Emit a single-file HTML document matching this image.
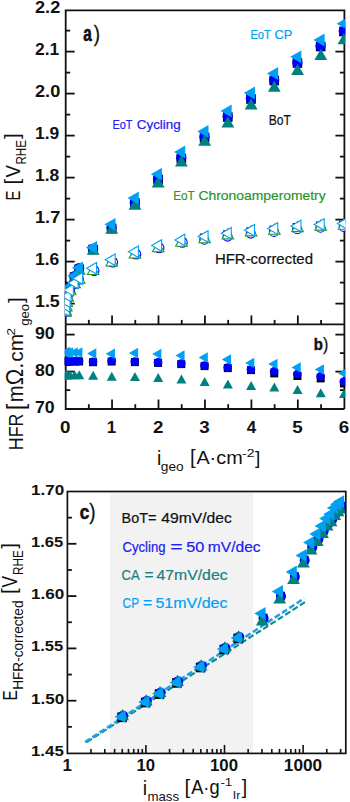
<!DOCTYPE html>
<html><head><meta charset="utf-8"><title>Figure</title>
<style>html,body{margin:0;padding:0;background:#fff;overflow:hidden}svg{display:block}text{font-family:"Liberation Sans",sans-serif}</style>
</head><body>
<svg width="350" height="802" viewBox="0 0 350 802">
<rect x="0" y="0" width="350" height="802" fill="#ffffff"/>
<defs><clipPath id="ca"><rect x="64.9" y="9.5" width="280.3" height="314.9"/></clipPath><clipPath id="cb"><rect x="64.9" y="325.3" width="280.3" height="84.5"/></clipPath><clipPath id="cc"><rect x="68.2" y="492.6" width="277" height="260"/></clipPath></defs>
<path d="M65.7,324.4 V10.4 H344.4 V409" fill="none" stroke="#111111" stroke-width="1.8"/>
<path d="M65.7,324.4 V409 H344.4" fill="none" stroke="#111111" stroke-width="1.8"/>
<line x1="65.7" y1="324.4" x2="344.4" y2="324.4" stroke="#111111" stroke-width="1.8"/>
<line x1="65.7" y1="30.6" x2="70.2" y2="30.6" stroke="#111111" stroke-width="1.8"/>
<line x1="344.4" y1="30.6" x2="339.9" y2="30.6" stroke="#111111" stroke-width="1.8"/>
<line x1="65.7" y1="51.6" x2="74.7" y2="51.6" stroke="#111111" stroke-width="1.8"/>
<line x1="344.4" y1="51.6" x2="335.4" y2="51.6" stroke="#111111" stroke-width="1.8"/>
<line x1="65.7" y1="72.6" x2="70.2" y2="72.6" stroke="#111111" stroke-width="1.8"/>
<line x1="344.4" y1="72.6" x2="339.9" y2="72.6" stroke="#111111" stroke-width="1.8"/>
<line x1="65.7" y1="93.6" x2="74.7" y2="93.6" stroke="#111111" stroke-width="1.8"/>
<line x1="344.4" y1="93.6" x2="335.4" y2="93.6" stroke="#111111" stroke-width="1.8"/>
<line x1="65.7" y1="114.6" x2="70.2" y2="114.6" stroke="#111111" stroke-width="1.8"/>
<line x1="344.4" y1="114.6" x2="339.9" y2="114.6" stroke="#111111" stroke-width="1.8"/>
<line x1="65.7" y1="135.6" x2="74.7" y2="135.6" stroke="#111111" stroke-width="1.8"/>
<line x1="344.4" y1="135.6" x2="335.4" y2="135.6" stroke="#111111" stroke-width="1.8"/>
<line x1="65.7" y1="156.6" x2="70.2" y2="156.6" stroke="#111111" stroke-width="1.8"/>
<line x1="344.4" y1="156.6" x2="339.9" y2="156.6" stroke="#111111" stroke-width="1.8"/>
<line x1="65.7" y1="177.6" x2="74.7" y2="177.6" stroke="#111111" stroke-width="1.8"/>
<line x1="344.4" y1="177.6" x2="335.4" y2="177.6" stroke="#111111" stroke-width="1.8"/>
<line x1="65.7" y1="198.6" x2="70.2" y2="198.6" stroke="#111111" stroke-width="1.8"/>
<line x1="344.4" y1="198.6" x2="339.9" y2="198.6" stroke="#111111" stroke-width="1.8"/>
<line x1="65.7" y1="219.6" x2="74.7" y2="219.6" stroke="#111111" stroke-width="1.8"/>
<line x1="344.4" y1="219.6" x2="335.4" y2="219.6" stroke="#111111" stroke-width="1.8"/>
<line x1="65.7" y1="240.6" x2="70.2" y2="240.6" stroke="#111111" stroke-width="1.8"/>
<line x1="344.4" y1="240.6" x2="339.9" y2="240.6" stroke="#111111" stroke-width="1.8"/>
<line x1="65.7" y1="261.6" x2="74.7" y2="261.6" stroke="#111111" stroke-width="1.8"/>
<line x1="344.4" y1="261.6" x2="335.4" y2="261.6" stroke="#111111" stroke-width="1.8"/>
<line x1="65.7" y1="282.6" x2="70.2" y2="282.6" stroke="#111111" stroke-width="1.8"/>
<line x1="344.4" y1="282.6" x2="339.9" y2="282.6" stroke="#111111" stroke-width="1.8"/>
<line x1="65.7" y1="303.6" x2="74.7" y2="303.6" stroke="#111111" stroke-width="1.8"/>
<line x1="344.4" y1="303.6" x2="335.4" y2="303.6" stroke="#111111" stroke-width="1.8"/>
<line x1="88.82" y1="324.4" x2="88.82" y2="319.9" stroke="#111111" stroke-width="1.8"/>
<line x1="112.05" y1="324.4" x2="112.05" y2="315.4" stroke="#111111" stroke-width="1.8"/>
<line x1="135.28" y1="324.4" x2="135.28" y2="319.9" stroke="#111111" stroke-width="1.8"/>
<line x1="158.5" y1="324.4" x2="158.5" y2="315.4" stroke="#111111" stroke-width="1.8"/>
<line x1="181.72" y1="324.4" x2="181.72" y2="319.9" stroke="#111111" stroke-width="1.8"/>
<line x1="204.95" y1="324.4" x2="204.95" y2="315.4" stroke="#111111" stroke-width="1.8"/>
<line x1="228.18" y1="324.4" x2="228.18" y2="319.9" stroke="#111111" stroke-width="1.8"/>
<line x1="251.4" y1="324.4" x2="251.4" y2="315.4" stroke="#111111" stroke-width="1.8"/>
<line x1="274.62" y1="324.4" x2="274.62" y2="319.9" stroke="#111111" stroke-width="1.8"/>
<line x1="297.85" y1="324.4" x2="297.85" y2="315.4" stroke="#111111" stroke-width="1.8"/>
<line x1="321.08" y1="324.4" x2="321.08" y2="319.9" stroke="#111111" stroke-width="1.8"/>
<line x1="65.7" y1="334.6" x2="74.7" y2="334.6" stroke="#111111" stroke-width="1.8"/>
<line x1="344.4" y1="334.6" x2="335.4" y2="334.6" stroke="#111111" stroke-width="1.8"/>
<line x1="65.7" y1="353.1" x2="70.2" y2="353.1" stroke="#111111" stroke-width="1.8"/>
<line x1="344.4" y1="353.1" x2="339.9" y2="353.1" stroke="#111111" stroke-width="1.8"/>
<line x1="65.7" y1="371.6" x2="74.7" y2="371.6" stroke="#111111" stroke-width="1.8"/>
<line x1="344.4" y1="371.6" x2="335.4" y2="371.6" stroke="#111111" stroke-width="1.8"/>
<line x1="65.7" y1="390.1" x2="70.2" y2="390.1" stroke="#111111" stroke-width="1.8"/>
<line x1="344.4" y1="390.1" x2="339.9" y2="390.1" stroke="#111111" stroke-width="1.8"/>
<line x1="88.82" y1="409" x2="88.82" y2="404.2" stroke="#111111" stroke-width="1.8"/>
<line x1="112.05" y1="409" x2="112.05" y2="399.5" stroke="#111111" stroke-width="1.8"/>
<line x1="135.28" y1="409" x2="135.28" y2="404.2" stroke="#111111" stroke-width="1.8"/>
<line x1="158.5" y1="409" x2="158.5" y2="399.5" stroke="#111111" stroke-width="1.8"/>
<line x1="181.72" y1="409" x2="181.72" y2="404.2" stroke="#111111" stroke-width="1.8"/>
<line x1="204.95" y1="409" x2="204.95" y2="399.5" stroke="#111111" stroke-width="1.8"/>
<line x1="228.18" y1="409" x2="228.18" y2="404.2" stroke="#111111" stroke-width="1.8"/>
<line x1="251.4" y1="409" x2="251.4" y2="399.5" stroke="#111111" stroke-width="1.8"/>
<line x1="274.62" y1="409" x2="274.62" y2="404.2" stroke="#111111" stroke-width="1.8"/>
<line x1="297.85" y1="409" x2="297.85" y2="399.5" stroke="#111111" stroke-width="1.8"/>
<line x1="321.08" y1="409" x2="321.08" y2="404.2" stroke="#111111" stroke-width="1.8"/>
<g clip-path="url(#ca)">
<rect x="60.86" y="306.4" width="9.6" height="9.6" fill="#000000"/>
<rect x="61.33" y="300.1" width="9.6" height="9.6" fill="#000000"/>
<rect x="61.79" y="296.4" width="9.6" height="9.6" fill="#000000"/>
<rect x="62.72" y="291.2" width="9.6" height="9.6" fill="#000000"/>
<rect x="65.04" y="283.2" width="9.6" height="9.6" fill="#000000"/>
<rect x="69.69" y="272.4" width="9.6" height="9.6" fill="#000000"/>
<rect x="74.33" y="264.5" width="9.6" height="9.6" fill="#000000"/>
<rect x="88.27" y="244.7" width="9.6" height="9.6" fill="#000000"/>
<rect x="106.85" y="223.7" width="9.6" height="9.6" fill="#000000"/>
<rect x="130.07" y="198.2" width="9.6" height="9.6" fill="#000000"/>
<rect x="153.3" y="174.7" width="9.6" height="9.6" fill="#000000"/>
<rect x="176.52" y="153.7" width="9.6" height="9.6" fill="#000000"/>
<rect x="199.75" y="132.7" width="9.6" height="9.6" fill="#000000"/>
<rect x="222.97" y="112.2" width="9.6" height="9.6" fill="#000000"/>
<rect x="246.2" y="94.2" width="9.6" height="9.6" fill="#000000"/>
<rect x="269.43" y="75.7" width="9.6" height="9.6" fill="#000000"/>
<rect x="292.65" y="58.2" width="9.6" height="9.6" fill="#000000"/>
<rect x="315.88" y="41.7" width="9.6" height="9.6" fill="#000000"/>
<rect x="339.1" y="26.7" width="9.6" height="9.6" fill="#000000"/>
<circle cx="65.56" cy="310.2" r="5.2" fill="#0000ff"/>
<circle cx="66.03" cy="303.9" r="5.2" fill="#0000ff"/>
<circle cx="66.49" cy="300.2" r="5.2" fill="#0000ff"/>
<circle cx="67.42" cy="295" r="5.2" fill="#0000ff"/>
<circle cx="69.74" cy="287" r="5.2" fill="#0000ff"/>
<circle cx="74.39" cy="276.2" r="5.2" fill="#0000ff"/>
<circle cx="79.03" cy="268.3" r="5.2" fill="#0000ff"/>
<circle cx="92.97" cy="249" r="5.2" fill="#0000ff"/>
<circle cx="111.55" cy="228" r="5.2" fill="#0000ff"/>
<circle cx="134.78" cy="202.5" r="5.2" fill="#0000ff"/>
<circle cx="158" cy="179" r="5.2" fill="#0000ff"/>
<circle cx="181.22" cy="158" r="5.2" fill="#0000ff"/>
<circle cx="204.45" cy="137" r="5.2" fill="#0000ff"/>
<circle cx="227.68" cy="116.5" r="5.2" fill="#0000ff"/>
<circle cx="250.9" cy="98.5" r="5.2" fill="#0000ff"/>
<circle cx="274.12" cy="80" r="5.2" fill="#0000ff"/>
<circle cx="297.35" cy="62.5" r="5.2" fill="#0000ff"/>
<circle cx="320.58" cy="46" r="5.2" fill="#0000ff"/>
<circle cx="343.8" cy="31" r="5.2" fill="#0000ff"/>
<polygon points="65.76,305.5 59.36,316.7 72.16,316.7" fill="#008080"/>
<polygon points="66.23,299.2 59.83,310.4 72.63,310.4" fill="#008080"/>
<polygon points="66.69,295.5 60.29,306.7 73.09,306.7" fill="#008080"/>
<polygon points="67.62,290.3 61.22,301.5 74.02,301.5" fill="#008080"/>
<polygon points="69.94,282.3 63.54,293.5 76.34,293.5" fill="#008080"/>
<polygon points="74.59,271.5 68.19,282.7 80.99,282.7" fill="#008080"/>
<polygon points="79.23,263.6 72.83,274.8 85.64,274.8" fill="#008080"/>
<polygon points="93.17,243.6 86.77,254.8 99.57,254.8" fill="#008080"/>
<polygon points="111.75,222.6 105.35,233.8 118.15,233.8" fill="#008080"/>
<polygon points="134.97,198.6 128.57,209.8 141.38,209.8" fill="#008080"/>
<polygon points="158.2,176.3 151.8,187.5 164.6,187.5" fill="#008080"/>
<polygon points="181.42,155.3 175.02,166.5 187.82,166.5" fill="#008080"/>
<polygon points="204.65,134.5 198.25,145.7 211.05,145.7" fill="#008080"/>
<polygon points="227.88,116.3 221.47,127.5 234.28,127.5" fill="#008080"/>
<polygon points="251.1,98.3 244.7,109.5 257.5,109.5" fill="#008080"/>
<polygon points="274.32,80.6 267.93,91.8 280.72,91.8" fill="#008080"/>
<polygon points="297.55,63.8 291.15,75 303.95,75" fill="#008080"/>
<polygon points="320.78,48.8 314.38,60 327.18,60" fill="#008080"/>
<polygon points="344,33.1 337.6,44.3 350.4,44.3" fill="#008080"/>
<polygon points="58.4,309.7 69.6,303.3 69.6,316.1" fill="#00a0f5"/>
<polygon points="58.86,303.4 70.06,297 70.06,309.8" fill="#00a0f5"/>
<polygon points="59.33,299.7 70.53,293.3 70.53,306.1" fill="#00a0f5"/>
<polygon points="60.26,294.5 71.46,288.1 71.46,300.9" fill="#00a0f5"/>
<polygon points="62.58,286.5 73.78,280.1 73.78,292.9" fill="#00a0f5"/>
<polygon points="67.22,275.7 78.42,269.3 78.42,282.1" fill="#00a0f5"/>
<polygon points="71.87,267.8 83.07,261.4 83.07,274.2" fill="#00a0f5"/>
<polygon points="85.8,247.5 97,241.1 97,253.9" fill="#00a0f5"/>
<polygon points="104.38,224.3 115.58,217.9 115.58,230.7" fill="#00a0f5"/>
<polygon points="127.61,198 138.81,191.6 138.81,204.4" fill="#00a0f5"/>
<polygon points="150.83,174.2 162.03,167.8 162.03,180.6" fill="#00a0f5"/>
<polygon points="174.06,152 185.26,145.6 185.26,158.4" fill="#00a0f5"/>
<polygon points="197.28,131.5 208.48,125.1 208.48,137.9" fill="#00a0f5"/>
<polygon points="220.51,111 231.71,104.6 231.71,117.4" fill="#00a0f5"/>
<polygon points="243.73,93 254.93,86.6 254.93,99.4" fill="#00a0f5"/>
<polygon points="266.96,73.5 278.16,67.1 278.16,79.9" fill="#00a0f5"/>
<polygon points="290.18,56.8 301.38,50.4 301.38,63.2" fill="#00a0f5"/>
<polygon points="313.41,40 324.61,33.6 324.61,46.4" fill="#00a0f5"/>
<polygon points="336.63,23.7 347.83,17.3 347.83,30.1" fill="#00a0f5"/>
<rect x="62.26" y="308.3" width="7" height="7" fill="#fff" stroke="#000000" stroke-width="1.1"/>
<rect x="62.73" y="304.2" width="7" height="7" fill="#fff" stroke="#000000" stroke-width="1.1"/>
<rect x="63.19" y="299.8" width="7" height="7" fill="#fff" stroke="#000000" stroke-width="1.1"/>
<rect x="64.12" y="294" width="7" height="7" fill="#fff" stroke="#000000" stroke-width="1.1"/>
<rect x="66.44" y="288.1" width="7" height="7" fill="#fff" stroke="#000000" stroke-width="1.1"/>
<rect x="71.09" y="280.9" width="7" height="7" fill="#fff" stroke="#000000" stroke-width="1.1"/>
<rect x="75.73" y="276.4" width="7" height="7" fill="#fff" stroke="#000000" stroke-width="1.1"/>
<rect x="90.07" y="267.1" width="7.4" height="7.4" fill="#fff" stroke="#000000" stroke-width="1.1"/>
<rect x="108.65" y="258.6" width="7.4" height="7.4" fill="#fff" stroke="#000000" stroke-width="1.1"/>
<rect x="131.88" y="250.6" width="7.4" height="7.4" fill="#fff" stroke="#000000" stroke-width="1.1"/>
<rect x="155.1" y="244.3" width="7.4" height="7.4" fill="#fff" stroke="#000000" stroke-width="1.1"/>
<rect x="178.33" y="238.8" width="7.4" height="7.4" fill="#fff" stroke="#000000" stroke-width="1.1"/>
<rect x="200.35" y="234.1" width="6.6" height="6.6" fill="#fff" stroke="#000000" stroke-width="1.1"/>
<rect x="223.57" y="230.9" width="6.6" height="6.6" fill="#fff" stroke="#000000" stroke-width="1.1"/>
<rect x="246.8" y="227.9" width="6.6" height="6.6" fill="#fff" stroke="#000000" stroke-width="1.1"/>
<rect x="270.02" y="226.2" width="6.6" height="6.6" fill="#fff" stroke="#000000" stroke-width="1.1"/>
<rect x="293.25" y="223.6" width="6.6" height="6.6" fill="#fff" stroke="#000000" stroke-width="1.1"/>
<rect x="316.48" y="222.1" width="6.6" height="6.6" fill="#fff" stroke="#000000" stroke-width="1.1"/>
<rect x="339.7" y="221.2" width="6.6" height="6.6" fill="#fff" stroke="#000000" stroke-width="1.1"/>
<circle cx="65.56" cy="311.8" r="4.4" fill="#fff" stroke="#0000ff" stroke-width="1.1"/>
<circle cx="66.03" cy="307.7" r="4.4" fill="#fff" stroke="#0000ff" stroke-width="1.1"/>
<circle cx="66.49" cy="303.3" r="4.4" fill="#fff" stroke="#0000ff" stroke-width="1.1"/>
<circle cx="67.42" cy="297.5" r="4.4" fill="#fff" stroke="#0000ff" stroke-width="1.1"/>
<circle cx="69.74" cy="291.6" r="4.4" fill="#fff" stroke="#0000ff" stroke-width="1.1"/>
<circle cx="74.39" cy="284.4" r="4.4" fill="#fff" stroke="#0000ff" stroke-width="1.1"/>
<circle cx="79.03" cy="279.9" r="4.4" fill="#fff" stroke="#0000ff" stroke-width="1.1"/>
<circle cx="94.27" cy="270.8" r="4.7" fill="#fff" stroke="#0000ff" stroke-width="1.1"/>
<circle cx="112.85" cy="262.3" r="4.7" fill="#fff" stroke="#0000ff" stroke-width="1.1"/>
<circle cx="136.08" cy="254.3" r="4.7" fill="#fff" stroke="#0000ff" stroke-width="1.1"/>
<circle cx="159.3" cy="248" r="4.7" fill="#fff" stroke="#0000ff" stroke-width="1.1"/>
<circle cx="182.53" cy="242.5" r="4.7" fill="#fff" stroke="#0000ff" stroke-width="1.1"/>
<circle cx="204.35" cy="239.8" r="4.5" fill="#fff" stroke="#0000ff" stroke-width="1.1"/>
<circle cx="227.58" cy="236.6" r="4.5" fill="#fff" stroke="#0000ff" stroke-width="1.1"/>
<circle cx="250.8" cy="233.6" r="4.5" fill="#fff" stroke="#0000ff" stroke-width="1.1"/>
<circle cx="274.02" cy="231.9" r="4.5" fill="#fff" stroke="#0000ff" stroke-width="1.1"/>
<circle cx="297.25" cy="229.3" r="4.5" fill="#fff" stroke="#0000ff" stroke-width="1.1"/>
<circle cx="320.48" cy="227.8" r="4.5" fill="#fff" stroke="#0000ff" stroke-width="1.1"/>
<circle cx="343.7" cy="226.9" r="4.5" fill="#fff" stroke="#0000ff" stroke-width="1.1"/>
<polygon points="65.76,305 59.96,315 71.56,315" fill="#fff" stroke="#2a962a" stroke-width="1.1"/>
<polygon points="66.23,300.9 60.43,310.9 72.03,310.9" fill="#fff" stroke="#2a962a" stroke-width="1.1"/>
<polygon points="66.69,296.5 60.89,306.5 72.49,306.5" fill="#fff" stroke="#2a962a" stroke-width="1.1"/>
<polygon points="67.62,290.7 61.82,300.7 73.42,300.7" fill="#fff" stroke="#2a962a" stroke-width="1.1"/>
<polygon points="69.94,284.8 64.14,294.8 75.74,294.8" fill="#fff" stroke="#2a962a" stroke-width="1.1"/>
<polygon points="74.59,277.6 68.79,287.6 80.39,287.6" fill="#fff" stroke="#2a962a" stroke-width="1.1"/>
<polygon points="79.23,273.1 73.44,283.1 85.03,283.1" fill="#fff" stroke="#2a962a" stroke-width="1.1"/>
<polygon points="93.17,264.5 87.37,274.5 98.97,274.5" fill="#fff" stroke="#2a962a" stroke-width="1.1"/>
<polygon points="111.75,256 105.95,266 117.55,266" fill="#fff" stroke="#2a962a" stroke-width="1.1"/>
<polygon points="134.97,248 129.17,258 140.78,258" fill="#fff" stroke="#2a962a" stroke-width="1.1"/>
<polygon points="158.2,241.7 152.4,251.7 164,251.7" fill="#fff" stroke="#2a962a" stroke-width="1.1"/>
<polygon points="181.42,236.2 175.62,246.2 187.22,246.2" fill="#fff" stroke="#2a962a" stroke-width="1.1"/>
<polygon points="204.65,232.7 198.85,242.7 210.45,242.7" fill="#fff" stroke="#2a962a" stroke-width="1.1"/>
<polygon points="227.88,228.9 222.07,238.9 233.68,238.9" fill="#fff" stroke="#2a962a" stroke-width="1.1"/>
<polygon points="251.1,225.9 245.3,235.9 256.9,235.9" fill="#fff" stroke="#2a962a" stroke-width="1.1"/>
<polygon points="274.32,224.2 268.52,234.2 280.12,234.2" fill="#fff" stroke="#2a962a" stroke-width="1.1"/>
<polygon points="297.55,221.6 291.75,231.6 303.35,231.6" fill="#fff" stroke="#2a962a" stroke-width="1.1"/>
<polygon points="320.78,220.1 314.98,230.1 326.58,230.1" fill="#fff" stroke="#2a962a" stroke-width="1.1"/>
<polygon points="344,219.2 338.2,229.2 349.8,229.2" fill="#fff" stroke="#2a962a" stroke-width="1.1"/>
<polygon points="59.2,310.3 69.2,304.5 69.2,316.1" fill="#fff" stroke="#00a0f5" stroke-width="1.1" stroke-linejoin="miter"/>
<polygon points="59.66,306.2 69.66,300.4 69.66,312" fill="#fff" stroke="#00a0f5" stroke-width="1.1" stroke-linejoin="miter"/>
<polygon points="60.13,301.8 70.13,296 70.13,307.6" fill="#fff" stroke="#00a0f5" stroke-width="1.1" stroke-linejoin="miter"/>
<polygon points="61.06,296 71.06,290.2 71.06,301.8" fill="#fff" stroke="#00a0f5" stroke-width="1.1" stroke-linejoin="miter"/>
<polygon points="63.38,290.1 73.38,284.3 73.38,295.9" fill="#fff" stroke="#00a0f5" stroke-width="1.1" stroke-linejoin="miter"/>
<polygon points="68.02,282.9 78.02,277.1 78.02,288.7" fill="#fff" stroke="#00a0f5" stroke-width="1.1" stroke-linejoin="miter"/>
<polygon points="72.67,278.4 82.67,272.6 82.67,284.2" fill="#fff" stroke="#00a0f5" stroke-width="1.1" stroke-linejoin="miter"/>
<polygon points="86.6,268.3 96.6,262.5 96.6,274.1" fill="#fff" stroke="#00a0f5" stroke-width="1.1" stroke-linejoin="miter"/>
<polygon points="105.18,259.8 115.18,254 115.18,265.6" fill="#fff" stroke="#00a0f5" stroke-width="1.1" stroke-linejoin="miter"/>
<polygon points="128.41,251.8 138.41,246 138.41,257.6" fill="#fff" stroke="#00a0f5" stroke-width="1.1" stroke-linejoin="miter"/>
<polygon points="151.63,245.5 161.63,239.7 161.63,251.3" fill="#fff" stroke="#00a0f5" stroke-width="1.1" stroke-linejoin="miter"/>
<polygon points="174.86,240 184.86,234.2 184.86,245.8" fill="#fff" stroke="#00a0f5" stroke-width="1.1" stroke-linejoin="miter"/>
<polygon points="198.08,236.5 208.08,230.7 208.08,242.3" fill="#fff" stroke="#00a0f5" stroke-width="1.1" stroke-linejoin="miter"/>
<polygon points="221.31,233.3 231.31,227.5 231.31,239.1" fill="#fff" stroke="#00a0f5" stroke-width="1.1" stroke-linejoin="miter"/>
<polygon points="244.53,230.3 254.53,224.5 254.53,236.1" fill="#fff" stroke="#00a0f5" stroke-width="1.1" stroke-linejoin="miter"/>
<polygon points="267.76,228.6 277.76,222.8 277.76,234.4" fill="#fff" stroke="#00a0f5" stroke-width="1.1" stroke-linejoin="miter"/>
<polygon points="290.98,226 300.98,220.2 300.98,231.8" fill="#fff" stroke="#00a0f5" stroke-width="1.1" stroke-linejoin="miter"/>
<polygon points="314.21,224.5 324.21,218.7 324.21,230.3" fill="#fff" stroke="#00a0f5" stroke-width="1.1" stroke-linejoin="miter"/>
<polygon points="337.43,223.6 347.43,217.8 347.43,229.4" fill="#fff" stroke="#00a0f5" stroke-width="1.1" stroke-linejoin="miter"/>
</g>
<g clip-path="url(#cb)">
<rect x="61.66" y="357.5" width="8" height="8" fill="#000000"/>
<rect x="62.13" y="357.5" width="8" height="8" fill="#000000"/>
<rect x="62.59" y="357.5" width="8" height="8" fill="#000000"/>
<rect x="63.52" y="357.5" width="8" height="8" fill="#000000"/>
<rect x="65.84" y="357.5" width="8" height="8" fill="#000000"/>
<rect x="70.49" y="357.5" width="8" height="8" fill="#000000"/>
<rect x="75.13" y="357.5" width="8" height="8" fill="#000000"/>
<rect x="89.07" y="358.2" width="8" height="8" fill="#000000"/>
<rect x="107.65" y="357.5" width="8" height="8" fill="#000000"/>
<rect x="130.88" y="358.1" width="8" height="8" fill="#000000"/>
<rect x="154.1" y="358.9" width="8" height="8" fill="#000000"/>
<rect x="177.32" y="360.1" width="8" height="8" fill="#000000"/>
<rect x="200.55" y="362.1" width="8" height="8" fill="#000000"/>
<rect x="223.78" y="364.1" width="8" height="8" fill="#000000"/>
<rect x="247" y="366.1" width="8" height="8" fill="#000000"/>
<rect x="270.23" y="369.4" width="8" height="8" fill="#000000"/>
<rect x="293.45" y="372" width="8" height="8" fill="#000000"/>
<rect x="316.68" y="374.4" width="8" height="8" fill="#000000"/>
<rect x="339.9" y="379.5" width="8" height="8" fill="#000000"/>
<circle cx="65.56" cy="361" r="4.3" fill="#0000ff"/>
<circle cx="66.03" cy="361" r="4.3" fill="#0000ff"/>
<circle cx="66.49" cy="361" r="4.3" fill="#0000ff"/>
<circle cx="67.42" cy="361" r="4.3" fill="#0000ff"/>
<circle cx="69.74" cy="361" r="4.3" fill="#0000ff"/>
<circle cx="74.39" cy="361" r="4.3" fill="#0000ff"/>
<circle cx="79.03" cy="361" r="4.3" fill="#0000ff"/>
<circle cx="92.97" cy="361.7" r="4.3" fill="#0000ff"/>
<circle cx="111.55" cy="361" r="4.3" fill="#0000ff"/>
<circle cx="134.78" cy="361.6" r="4.3" fill="#0000ff"/>
<circle cx="158" cy="362.4" r="4.3" fill="#0000ff"/>
<circle cx="181.22" cy="363.6" r="4.3" fill="#0000ff"/>
<circle cx="204.45" cy="365.6" r="4.3" fill="#0000ff"/>
<circle cx="227.68" cy="367.6" r="4.3" fill="#0000ff"/>
<circle cx="250.9" cy="369.6" r="4.3" fill="#0000ff"/>
<circle cx="274.12" cy="371.4" r="4.3" fill="#0000ff"/>
<circle cx="297.35" cy="374" r="4.3" fill="#0000ff"/>
<circle cx="320.58" cy="376.4" r="4.3" fill="#0000ff"/>
<circle cx="343.8" cy="381.5" r="4.3" fill="#0000ff"/>
<polygon points="65.76,370.2 60.76,379.2 70.76,379.2" fill="#008080"/>
<polygon points="66.23,370.2 61.23,379.2 71.23,379.2" fill="#008080"/>
<polygon points="66.69,370.2 61.69,379.2 71.69,379.2" fill="#008080"/>
<polygon points="67.62,370.2 62.62,379.2 72.62,379.2" fill="#008080"/>
<polygon points="69.94,370.2 64.94,379.2 74.94,379.2" fill="#008080"/>
<polygon points="74.59,370.2 69.59,379.2 79.59,379.2" fill="#008080"/>
<polygon points="79.23,370.2 74.23,379.2 84.23,379.2" fill="#008080"/>
<polygon points="93.17,370.8 88.17,379.8 98.17,379.8" fill="#008080"/>
<polygon points="111.75,371.8 106.75,380.8 116.75,380.8" fill="#008080"/>
<polygon points="134.97,372 129.97,381 139.97,381" fill="#008080"/>
<polygon points="158.2,373 153.2,382 163.2,382" fill="#008080"/>
<polygon points="181.42,374.6 176.42,383.6 186.42,383.6" fill="#008080"/>
<polygon points="204.65,377 199.65,386 209.65,386" fill="#008080"/>
<polygon points="227.88,379.4 222.88,388.4 232.88,388.4" fill="#008080"/>
<polygon points="251.1,381 246.1,390 256.1,390" fill="#008080"/>
<polygon points="274.32,382.5 269.32,391.5 279.32,391.5" fill="#008080"/>
<polygon points="297.55,385 292.55,394 302.55,394" fill="#008080"/>
<polygon points="320.78,388.3 315.78,397.3 325.78,397.3" fill="#008080"/>
<polygon points="344,389 339,398 349,398" fill="#008080"/>
<polygon points="59.73,352.5 68.93,347.25 68.93,357.75" fill="#00a0f5"/>
<polygon points="60.2,352.5 69.4,347.25 69.4,357.75" fill="#00a0f5"/>
<polygon points="60.66,352.5 69.86,347.25 69.86,357.75" fill="#00a0f5"/>
<polygon points="61.59,352.5 70.79,347.25 70.79,357.75" fill="#00a0f5"/>
<polygon points="63.91,352.5 73.11,347.25 73.11,357.75" fill="#00a0f5"/>
<polygon points="68.56,352.5 77.76,347.25 77.76,357.75" fill="#00a0f5"/>
<polygon points="73.2,352.5 82.4,347.25 82.4,357.75" fill="#00a0f5"/>
<polygon points="87.14,353.5 96.34,348.25 96.34,358.75" fill="#00a0f5"/>
<polygon points="105.72,353.7 114.92,348.45 114.92,358.95" fill="#00a0f5"/>
<polygon points="128.94,353 138.14,347.75 138.14,358.25" fill="#00a0f5"/>
<polygon points="152.17,354 161.37,348.75 161.37,359.25" fill="#00a0f5"/>
<polygon points="175.39,355.6 184.59,350.35 184.59,360.85" fill="#00a0f5"/>
<polygon points="198.62,357.6 207.82,352.35 207.82,362.85" fill="#00a0f5"/>
<polygon points="221.84,359.6 231.04,354.35 231.04,364.85" fill="#00a0f5"/>
<polygon points="245.07,363 254.27,357.75 254.27,368.25" fill="#00a0f5"/>
<polygon points="268.29,363.9 277.49,358.65 277.49,369.15" fill="#00a0f5"/>
<polygon points="291.52,367.6 300.72,362.35 300.72,372.85" fill="#00a0f5"/>
<polygon points="314.74,369.6 323.94,364.35 323.94,374.85" fill="#00a0f5"/>
<polygon points="337.97,373.2 347.17,367.95 347.17,378.45" fill="#00a0f5"/>
</g>
<rect x="109.8" y="493" width="143.2" height="259.5" fill="#f2f2f2"/>
<line x1="85.5" y1="742.9" x2="306.4" y2="601.3" stroke="#0f8a86" stroke-width="2.1" stroke-dasharray="6 2.73" stroke-dashoffset="-1.5"/>
<line x1="85" y1="742.2" x2="304.2" y2="598.3" stroke="#1aa2f0" stroke-width="2.6" stroke-dasharray="6 2.73"/>
<g clip-path="url(#cc)">
<rect x="117.24" y="712.5" width="9.6" height="9.6" fill="#000000"/>
<rect x="140.9" y="697.7" width="9.6" height="9.6" fill="#000000"/>
<rect x="154.74" y="689.3" width="9.6" height="9.6" fill="#000000"/>
<rect x="172.18" y="678.1" width="9.6" height="9.6" fill="#000000"/>
<rect x="195.84" y="662.7" width="9.6" height="9.6" fill="#000000"/>
<rect x="219.5" y="644.7" width="9.6" height="9.6" fill="#000000"/>
<rect x="233.34" y="633.7" width="9.6" height="9.6" fill="#000000"/>
<rect x="258.9" y="613.7" width="8.6" height="8.6" fill="#000000"/>
<rect x="276.34" y="591.7" width="8.6" height="8.6" fill="#000000"/>
<rect x="290.18" y="572.2" width="8.6" height="8.6" fill="#000000"/>
<rect x="300" y="555.7" width="8.6" height="8.6" fill="#000000"/>
<rect x="307.62" y="542.7" width="8.6" height="8.6" fill="#000000"/>
<rect x="313.84" y="534.2" width="8.6" height="8.6" fill="#000000"/>
<rect x="319.1" y="526.2" width="8.6" height="8.6" fill="#000000"/>
<rect x="323.66" y="518.8" width="8.6" height="8.6" fill="#000000"/>
<rect x="327.68" y="514.4" width="8.6" height="8.6" fill="#000000"/>
<rect x="331.28" y="508.1" width="8.6" height="8.6" fill="#000000"/>
<rect x="334.53" y="504.4" width="8.6" height="8.6" fill="#000000"/>
<rect x="337.5" y="501.8" width="8.6" height="8.6" fill="#000000"/>
<circle cx="123.04" cy="715.8" r="5.2" fill="#0000ff"/>
<circle cx="146.7" cy="701" r="5.2" fill="#0000ff"/>
<circle cx="160.54" cy="692.6" r="5.2" fill="#0000ff"/>
<circle cx="177.98" cy="681.4" r="5.2" fill="#0000ff"/>
<circle cx="201.64" cy="666" r="5.2" fill="#0000ff"/>
<circle cx="225.3" cy="648" r="5.2" fill="#0000ff"/>
<circle cx="239.14" cy="637" r="5.2" fill="#0000ff"/>
<circle cx="263.6" cy="618.3" r="5" fill="#0000ff"/>
<circle cx="281.04" cy="596.3" r="5" fill="#0000ff"/>
<circle cx="294.88" cy="576.8" r="5" fill="#0000ff"/>
<circle cx="304.7" cy="560.3" r="5" fill="#0000ff"/>
<circle cx="312.32" cy="547.3" r="5" fill="#0000ff"/>
<circle cx="318.54" cy="538.8" r="5" fill="#0000ff"/>
<circle cx="323.8" cy="530.8" r="5" fill="#0000ff"/>
<circle cx="328.36" cy="523.4" r="5" fill="#0000ff"/>
<circle cx="332.38" cy="519" r="5" fill="#0000ff"/>
<circle cx="335.98" cy="512.7" r="5" fill="#0000ff"/>
<circle cx="339.23" cy="509" r="5" fill="#0000ff"/>
<circle cx="342.2" cy="506.4" r="5" fill="#0000ff"/>
<polygon points="122.54,709.1 116.14,720.3 128.94,720.3" fill="#008080"/>
<polygon points="146.2,694.3 139.8,705.5 152.6,705.5" fill="#008080"/>
<polygon points="160.04,685.9 153.64,697.1 166.44,697.1" fill="#008080"/>
<polygon points="177.48,674.7 171.08,685.9 183.88,685.9" fill="#008080"/>
<polygon points="201.14,659.3 194.74,670.5 207.54,670.5" fill="#008080"/>
<polygon points="224.8,641.3 218.4,652.5 231.2,652.5" fill="#008080"/>
<polygon points="238.64,630.3 232.24,641.5 245.04,641.5" fill="#008080"/>
<polygon points="262.3,614.3 255.9,625.5 268.7,625.5" fill="#008080"/>
<polygon points="279.74,592.3 273.34,603.5 286.14,603.5" fill="#008080"/>
<polygon points="293.58,572.8 287.18,584 299.98,584" fill="#008080"/>
<polygon points="303.4,556.3 297,567.5 309.8,567.5" fill="#008080"/>
<polygon points="311.02,543.3 304.62,554.5 317.42,554.5" fill="#008080"/>
<polygon points="317.24,534.8 310.84,546 323.64,546" fill="#008080"/>
<polygon points="322.5,526.8 316.1,538 328.9,538" fill="#008080"/>
<polygon points="327.06,519.4 320.66,530.6 333.46,530.6" fill="#008080"/>
<polygon points="331.08,515 324.68,526.2 337.48,526.2" fill="#008080"/>
<polygon points="334.68,508.7 328.28,519.9 341.08,519.9" fill="#008080"/>
<polygon points="337.93,505 331.53,516.2 344.33,516.2" fill="#008080"/>
<polygon points="340.9,502.4 334.5,513.6 347.3,513.6" fill="#008080"/>
<polygon points="114.57,716.8 125.77,710.4 125.77,723.2" fill="#00a0f5"/>
<polygon points="138.23,702 149.43,695.6 149.43,708.4" fill="#00a0f5"/>
<polygon points="152.07,693.6 163.27,687.2 163.27,700" fill="#00a0f5"/>
<polygon points="169.51,682.4 180.71,676 180.71,688.8" fill="#00a0f5"/>
<polygon points="193.17,667 204.37,660.6 204.37,673.4" fill="#00a0f5"/>
<polygon points="216.83,649 228.03,642.6 228.03,655.4" fill="#00a0f5"/>
<polygon points="230.67,638 241.87,631.6 241.87,644.4" fill="#00a0f5"/>
<polygon points="254.34,613.5 265.54,607.1 265.54,619.9" fill="#00a0f5"/>
<polygon points="271.77,591.5 282.97,585.1 282.97,597.9" fill="#00a0f5"/>
<polygon points="285.61,572 296.81,565.6 296.81,578.4" fill="#00a0f5"/>
<polygon points="295.43,555.5 306.63,549.1 306.63,561.9" fill="#00a0f5"/>
<polygon points="303.05,542.5 314.25,536.1 314.25,548.9" fill="#00a0f5"/>
<polygon points="309.27,534 320.47,527.6 320.47,540.4" fill="#00a0f5"/>
<polygon points="314.54,526 325.74,519.6 325.74,532.4" fill="#00a0f5"/>
<polygon points="319.09,518.6 330.29,512.2 330.29,525" fill="#00a0f5"/>
<polygon points="323.11,514.2 334.31,507.8 334.31,520.6" fill="#00a0f5"/>
<polygon points="326.71,507.9 337.91,501.5 337.91,514.3" fill="#00a0f5"/>
<polygon points="329.96,504.2 341.16,497.8 341.16,510.6" fill="#00a0f5"/>
<polygon points="332.94,501.6 344.14,495.2 344.14,508" fill="#00a0f5"/>
</g>
<rect x="67.4" y="491.5" width="278.4" height="261.9" fill="none" stroke="#111111" stroke-width="1.7"/>
<line x1="67.4" y1="517.65" x2="71.9" y2="517.65" stroke="#111111" stroke-width="1.8"/>
<line x1="67.4" y1="543.8" x2="76.4" y2="543.8" stroke="#111111" stroke-width="1.8"/>
<line x1="67.4" y1="569.95" x2="71.9" y2="569.95" stroke="#111111" stroke-width="1.8"/>
<line x1="67.4" y1="596.1" x2="76.4" y2="596.1" stroke="#111111" stroke-width="1.8"/>
<line x1="67.4" y1="622.25" x2="71.9" y2="622.25" stroke="#111111" stroke-width="1.8"/>
<line x1="67.4" y1="648.4" x2="76.4" y2="648.4" stroke="#111111" stroke-width="1.8"/>
<line x1="67.4" y1="674.55" x2="71.9" y2="674.55" stroke="#111111" stroke-width="1.8"/>
<line x1="67.4" y1="700.7" x2="76.4" y2="700.7" stroke="#111111" stroke-width="1.8"/>
<line x1="67.4" y1="726.85" x2="71.9" y2="726.85" stroke="#111111" stroke-width="1.8"/>
<line x1="90.96" y1="753.4" x2="90.96" y2="748.9" stroke="#111111" stroke-width="1.6"/>
<line x1="104.8" y1="753.4" x2="104.8" y2="748.9" stroke="#111111" stroke-width="1.6"/>
<line x1="114.62" y1="753.4" x2="114.62" y2="748.9" stroke="#111111" stroke-width="1.6"/>
<line x1="122.24" y1="753.4" x2="122.24" y2="748.9" stroke="#111111" stroke-width="1.6"/>
<line x1="128.46" y1="753.4" x2="128.46" y2="748.9" stroke="#111111" stroke-width="1.6"/>
<line x1="133.72" y1="753.4" x2="133.72" y2="748.9" stroke="#111111" stroke-width="1.6"/>
<line x1="138.28" y1="753.4" x2="138.28" y2="748.9" stroke="#111111" stroke-width="1.6"/>
<line x1="142.3" y1="753.4" x2="142.3" y2="748.9" stroke="#111111" stroke-width="1.6"/>
<line x1="145.9" y1="753.4" x2="145.9" y2="744.9" stroke="#111111" stroke-width="1.6"/>
<line x1="169.56" y1="753.4" x2="169.56" y2="748.9" stroke="#111111" stroke-width="1.6"/>
<line x1="183.4" y1="753.4" x2="183.4" y2="748.9" stroke="#111111" stroke-width="1.6"/>
<line x1="193.22" y1="753.4" x2="193.22" y2="748.9" stroke="#111111" stroke-width="1.6"/>
<line x1="200.84" y1="753.4" x2="200.84" y2="748.9" stroke="#111111" stroke-width="1.6"/>
<line x1="207.06" y1="753.4" x2="207.06" y2="748.9" stroke="#111111" stroke-width="1.6"/>
<line x1="212.32" y1="753.4" x2="212.32" y2="748.9" stroke="#111111" stroke-width="1.6"/>
<line x1="216.88" y1="753.4" x2="216.88" y2="748.9" stroke="#111111" stroke-width="1.6"/>
<line x1="220.9" y1="753.4" x2="220.9" y2="748.9" stroke="#111111" stroke-width="1.6"/>
<line x1="224.5" y1="753.4" x2="224.5" y2="744.9" stroke="#111111" stroke-width="1.6"/>
<line x1="248.16" y1="753.4" x2="248.16" y2="748.9" stroke="#111111" stroke-width="1.6"/>
<line x1="262" y1="753.4" x2="262" y2="748.9" stroke="#111111" stroke-width="1.6"/>
<line x1="271.82" y1="753.4" x2="271.82" y2="748.9" stroke="#111111" stroke-width="1.6"/>
<line x1="279.44" y1="753.4" x2="279.44" y2="748.9" stroke="#111111" stroke-width="1.6"/>
<line x1="285.66" y1="753.4" x2="285.66" y2="748.9" stroke="#111111" stroke-width="1.6"/>
<line x1="290.92" y1="753.4" x2="290.92" y2="748.9" stroke="#111111" stroke-width="1.6"/>
<line x1="295.48" y1="753.4" x2="295.48" y2="748.9" stroke="#111111" stroke-width="1.6"/>
<line x1="299.5" y1="753.4" x2="299.5" y2="748.9" stroke="#111111" stroke-width="1.6"/>
<line x1="303.1" y1="753.4" x2="303.1" y2="744.9" stroke="#111111" stroke-width="1.6"/>
<line x1="326.76" y1="753.4" x2="326.76" y2="748.9" stroke="#111111" stroke-width="1.6"/>
<line x1="340.6" y1="753.4" x2="340.6" y2="748.9" stroke="#111111" stroke-width="1.6"/>
<text x="250.40" y="39.40" font-size="12.80" fill="#00a0f5" stroke="#00a0f5" stroke-width="0.20" textLength="20.48" lengthAdjust="spacingAndGlyphs">EoT</text>
<text x="274.40" y="39.40" font-size="12.80" fill="#00a0f5" stroke="#00a0f5" stroke-width="0.20" textLength="17.78" lengthAdjust="spacingAndGlyphs">CP</text>
<text x="112.40" y="129.30" font-size="13.40" fill="#2020f0" stroke="#2020f0" stroke-width="0.20" textLength="20.06" lengthAdjust="spacingAndGlyphs">EoT</text>
<text x="136.80" y="129.30" font-size="13.40" fill="#2020f0" stroke="#2020f0" stroke-width="0.20" textLength="43.91" lengthAdjust="spacingAndGlyphs">Cycling</text>
<text x="268.70" y="124.60" font-size="13.80" fill="#111111" stroke="#111111" stroke-width="0.20" textLength="22.19" lengthAdjust="spacingAndGlyphs">BoT</text>
<text x="173.20" y="200.30" font-size="13.40" fill="#2a962a" stroke="#2a962a" stroke-width="0.20" textLength="21.56" lengthAdjust="spacingAndGlyphs">EoT</text>
<text x="198.40" y="200.30" font-size="13.40" fill="#2a962a" stroke="#2a962a" stroke-width="0.20" textLength="127.31" lengthAdjust="spacingAndGlyphs">Chronoamperometry</text>
<text x="214.90" y="264.00" font-size="14.50" fill="#111111" stroke="#111111" stroke-width="0.20" textLength="98.08" lengthAdjust="spacingAndGlyphs">HFR-corrected</text>
<text x="121.60" y="523.40" font-size="14.60" fill="#111111" stroke="#111111" stroke-width="0.20" textLength="34.80" lengthAdjust="spacingAndGlyphs">BoT=</text>
<text x="161.20" y="523.40" font-size="14.60" fill="#111111" stroke="#111111" stroke-width="0.20" textLength="70.72" lengthAdjust="spacingAndGlyphs">49mV/dec</text>
<text x="122.40" y="551.90" font-size="14.40" fill="#2020f0" stroke="#2020f0" stroke-width="0.20" textLength="43.19" lengthAdjust="spacingAndGlyphs">Cycling</text>
<text x="170.20" y="551.90" font-size="14.40" fill="#2020f0" stroke="#2020f0" stroke-width="0.20" textLength="12.41" lengthAdjust="spacingAndGlyphs">=</text>
<text x="186.20" y="551.90" font-size="14.40" fill="#2020f0" stroke="#2020f0" stroke-width="0.20" textLength="18.02" lengthAdjust="spacingAndGlyphs">50</text>
<text x="207.80" y="551.90" font-size="14.40" fill="#2020f0" stroke="#2020f0" stroke-width="0.20" textLength="52.80" lengthAdjust="spacingAndGlyphs">mV/dec</text>
<text x="121.60" y="580.30" font-size="14.60" fill="#1a8080" stroke="#1a8080" stroke-width="0.20" textLength="18.28" lengthAdjust="spacingAndGlyphs">CA</text>
<text x="144.40" y="580.30" font-size="14.60" fill="#1a8080" stroke="#1a8080" stroke-width="0.20" textLength="9.03" lengthAdjust="spacingAndGlyphs">=</text>
<text x="156.40" y="580.30" font-size="14.60" fill="#1a8080" stroke="#1a8080" stroke-width="0.20" textLength="71.22" lengthAdjust="spacingAndGlyphs">47mV/dec</text>
<text x="122.60" y="608.30" font-size="14.80" fill="#00a0f5" stroke="#00a0f5" stroke-width="0.20" textLength="16.56" lengthAdjust="spacingAndGlyphs">CP</text>
<text x="143.00" y="608.30" font-size="14.80" fill="#00a0f5" stroke="#00a0f5" stroke-width="0.20" textLength="9.16" lengthAdjust="spacingAndGlyphs">=</text>
<text x="155.40" y="608.30" font-size="14.80" fill="#00a0f5" stroke="#00a0f5" stroke-width="0.20" textLength="72.12" lengthAdjust="spacingAndGlyphs">51mV/dec</text>
<text x="83.20" y="40.50" font-size="21.50" font-weight="bold" fill="#111111" stroke="#111111" stroke-width="0.70" textLength="8.47" lengthAdjust="spacingAndGlyphs">a</text>
<text x="93.80" y="40.50" font-size="21.90" fill="#111111" stroke="#111111" stroke-width="0.30" textLength="6.30" lengthAdjust="spacingAndGlyphs">)</text>
<text x="313.80" y="350.20" font-size="17.40" font-weight="bold" fill="#111111" stroke="#111111" stroke-width="0.50" textLength="9.12" lengthAdjust="spacingAndGlyphs">b</text>
<text x="323.00" y="350.10" font-size="17.60" fill="#111111" stroke="#111111" stroke-width="0.25" textLength="5.36" lengthAdjust="spacingAndGlyphs">)</text>
<text x="79.80" y="518.90" font-size="20.80" font-weight="bold" fill="#111111" stroke="#111111" stroke-width="0.60" textLength="9.58" lengthAdjust="spacingAndGlyphs">c</text>
<text x="89.20" y="519.10" font-size="21.90" fill="#111111" stroke="#111111" stroke-width="0.30" textLength="6.30" lengthAdjust="spacingAndGlyphs">)</text>
<text x="35.00" y="12.90" font-size="16.40" font-weight="bold" fill="#111111" textLength="25.25" lengthAdjust="spacingAndGlyphs">2.2</text>
<text x="35.00" y="54.90" font-size="16.40" font-weight="bold" fill="#111111" textLength="24.25" lengthAdjust="spacingAndGlyphs">2.1</text>
<text x="35.00" y="96.90" font-size="16.40" font-weight="bold" fill="#111111" textLength="25.25" lengthAdjust="spacingAndGlyphs">2.0</text>
<text x="35.00" y="138.90" font-size="16.40" font-weight="bold" fill="#111111" textLength="24.25" lengthAdjust="spacingAndGlyphs">1.9</text>
<text x="35.00" y="180.90" font-size="16.40" font-weight="bold" fill="#111111" textLength="24.25" lengthAdjust="spacingAndGlyphs">1.8</text>
<text x="35.00" y="222.90" font-size="16.40" font-weight="bold" fill="#111111" textLength="25.25" lengthAdjust="spacingAndGlyphs">1.7</text>
<text x="35.00" y="264.90" font-size="16.40" font-weight="bold" fill="#111111" textLength="24.25" lengthAdjust="spacingAndGlyphs">1.6</text>
<text x="35.00" y="306.90" font-size="16.40" font-weight="bold" fill="#111111" textLength="24.80" lengthAdjust="spacingAndGlyphs">1.5</text>
<text x="34.90" y="339.00" font-size="15.60" font-weight="bold" fill="#111111" textLength="19.69" lengthAdjust="spacingAndGlyphs">90</text>
<text x="34.90" y="376.00" font-size="15.60" font-weight="bold" fill="#111111" textLength="19.69" lengthAdjust="spacingAndGlyphs">80</text>
<text x="34.90" y="413.00" font-size="15.60" font-weight="bold" fill="#111111" textLength="19.69" lengthAdjust="spacingAndGlyphs">70</text>
<text x="60.00" y="432.90" font-size="15.70" font-weight="bold" fill="#111111" textLength="10.45" lengthAdjust="spacingAndGlyphs">0</text>
<text x="106.85" y="432.90" font-size="15.70" font-weight="bold" fill="#111111" textLength="9.45" lengthAdjust="spacingAndGlyphs">1</text>
<text x="152.90" y="432.90" font-size="15.70" font-weight="bold" fill="#111111" textLength="10.45" lengthAdjust="spacingAndGlyphs">2</text>
<text x="199.35" y="432.90" font-size="15.70" font-weight="bold" fill="#111111" textLength="10.45" lengthAdjust="spacingAndGlyphs">3</text>
<text x="246.80" y="432.90" font-size="15.70" font-weight="bold" fill="#111111" textLength="9.45" lengthAdjust="spacingAndGlyphs">4</text>
<text x="292.25" y="432.90" font-size="15.70" font-weight="bold" fill="#111111" textLength="10.45" lengthAdjust="spacingAndGlyphs">5</text>
<text x="338.70" y="432.90" font-size="15.70" font-weight="bold" fill="#111111" textLength="10.45" lengthAdjust="spacingAndGlyphs">6</text>
<text x="31.00" y="494.50" font-size="15.50" font-weight="bold" fill="#111111" textLength="33.20" lengthAdjust="spacingAndGlyphs">1.70</text>
<text x="31.00" y="546.80" font-size="15.50" font-weight="bold" fill="#111111" textLength="32.20" lengthAdjust="spacingAndGlyphs">1.65</text>
<text x="31.00" y="599.10" font-size="15.50" font-weight="bold" fill="#111111" textLength="33.20" lengthAdjust="spacingAndGlyphs">1.60</text>
<text x="31.00" y="651.40" font-size="15.50" font-weight="bold" fill="#111111" textLength="32.17" lengthAdjust="spacingAndGlyphs">1.55</text>
<text x="31.00" y="703.70" font-size="15.50" font-weight="bold" fill="#111111" textLength="33.20" lengthAdjust="spacingAndGlyphs">1.50</text>
<text x="31.00" y="756.00" font-size="15.50" font-weight="bold" fill="#111111" textLength="32.80" lengthAdjust="spacingAndGlyphs">1.45</text>
<text x="62.50" y="771.40" font-size="15.60" font-weight="bold" fill="#111111" textLength="9.34" lengthAdjust="spacingAndGlyphs">1</text>
<text x="136.40" y="771.40" font-size="15.60" font-weight="bold" fill="#111111" textLength="18.69" lengthAdjust="spacingAndGlyphs">10</text>
<text x="210.00" y="771.40" font-size="15.60" font-weight="bold" fill="#111111" textLength="28.03" lengthAdjust="spacingAndGlyphs">100</text>
<text x="283.80" y="771.40" font-size="15.60" font-weight="bold" fill="#111111" textLength="38.38" lengthAdjust="spacingAndGlyphs">1000</text>
<text x="156.95" y="464.70" font-size="19.40" fill="#111111">i</text>
<text x="160.80" y="471.10" font-size="12.20" fill="#111111" textLength="22.84" lengthAdjust="spacingAndGlyphs">geo</text>
<text x="189.95" y="464.20" font-size="20.10" fill="#111111">[</text>
<text x="196.40" y="464.00" font-size="19.20" fill="#111111" textLength="46.27" lengthAdjust="spacingAndGlyphs">A·cm</text>
<text x="242.00" y="456.90" font-size="10.70" fill="#111111" textLength="12.52" lengthAdjust="spacingAndGlyphs">-2</text>
<text x="255.05" y="464.00" font-size="19.20" fill="#111111">]</text>
<text x="142.70" y="794.70" font-size="19.70" fill="#111111">i</text>
<text x="147.40" y="800.60" font-size="13.30" fill="#111111" textLength="31.78" lengthAdjust="spacingAndGlyphs">mass</text>
<text x="184.55" y="794.40" font-size="20.50" fill="#111111">[</text>
<text x="191.20" y="794.30" font-size="19.50" fill="#111111" textLength="28.36" lengthAdjust="spacingAndGlyphs">A·g</text>
<text x="220.40" y="786.30" font-size="10.00" fill="#111111" textLength="11.91" lengthAdjust="spacingAndGlyphs">-1</text>
<text x="232.80" y="799.40" font-size="10.80" fill="#111111" textLength="7.61" lengthAdjust="spacingAndGlyphs">Ir</text>
<text x="241.85" y="793.60" font-size="19.60" fill="#111111">]</text>
<text transform="translate(20.10,0) rotate(-90)" x="-200.40" y="0" font-size="20.90" fill="#111111" textLength="9.94" lengthAdjust="spacingAndGlyphs">E</text>
<text transform="translate(19.40,0) rotate(-90)" x="-184.55" y="0" font-size="20.60" fill="#111111">[</text>
<text transform="translate(20.10,0) rotate(-90)" x="-177.60" y="0" font-size="20.90" fill="#111111" textLength="12.44" lengthAdjust="spacingAndGlyphs">V</text>
<text transform="translate(25.70,0) rotate(-90)" x="-164.60" y="0" font-size="14.00" fill="#111111" textLength="24.56" lengthAdjust="spacingAndGlyphs">RHE</text>
<text transform="translate(19.40,0) rotate(-90)" x="-138.95" y="0" font-size="20.60" fill="#111111">]</text>
<text transform="translate(22.80,0) rotate(-90)" x="-450.20" y="0" font-size="20.50" fill="#111111" textLength="36.64" lengthAdjust="spacingAndGlyphs">HFR</text>
<text transform="translate(23.60,0) rotate(-90)" x="-410.15" y="0" font-size="23.30" font-family='"Liberation Serif",serif' fill="#111111">[</text>
<text transform="translate(23.10,0) rotate(-90)" x="-402.20" y="0" font-size="22.90" font-family='"Liberation Serif",serif' fill="#111111" textLength="16.81" lengthAdjust="spacingAndGlyphs">m</text>
<text transform="translate(23.10,0) rotate(-90)" x="-385.20" y="0" font-size="23.30" font-family='"Liberation Serif",serif' fill="#111111" textLength="22.64" lengthAdjust="spacingAndGlyphs">Ω.</text>
<text transform="translate(23.10,0) rotate(-90)" x="-361.80" y="0" font-size="20.60" fill="#111111" textLength="27.95" lengthAdjust="spacingAndGlyphs">cm</text>
<text transform="translate(15.40,0) rotate(-90)" x="-335.60" y="0" font-size="11.70" fill="#111111" textLength="7.52" lengthAdjust="spacingAndGlyphs">2</text>
<text transform="translate(29.30,0) rotate(-90)" x="-325.80" y="0" font-size="12.20" fill="#111111" textLength="21.84" lengthAdjust="spacingAndGlyphs">geo</text>
<text transform="translate(22.70,0) rotate(-90)" x="-303.00" y="0" font-size="20.70" fill="#111111">]</text>
<text transform="translate(16.70,0) rotate(-90)" x="-700.60" y="0" font-size="20.70" fill="#111111" textLength="10.31" lengthAdjust="spacingAndGlyphs">E</text>
<text transform="translate(22.70,0) rotate(-90)" x="-689.80" y="0" font-size="14.00" fill="#111111" textLength="89.30" lengthAdjust="spacingAndGlyphs">HFR-corrected</text>
<text transform="translate(16.30,0) rotate(-90)" x="-593.90" y="0" font-size="20.70" fill="#111111">[</text>
<text transform="translate(16.70,0) rotate(-90)" x="-587.40" y="0" font-size="21.20" fill="#111111" textLength="11.64" lengthAdjust="spacingAndGlyphs">V</text>
<text transform="translate(22.70,0) rotate(-90)" x="-575.00" y="0" font-size="14.30" fill="#111111" textLength="24.69" lengthAdjust="spacingAndGlyphs">RHE</text>
<text transform="translate(16.30,0) rotate(-90)" x="-548.70" y="0" font-size="20.70" fill="#111111">]</text>
</svg>
</body></html>
